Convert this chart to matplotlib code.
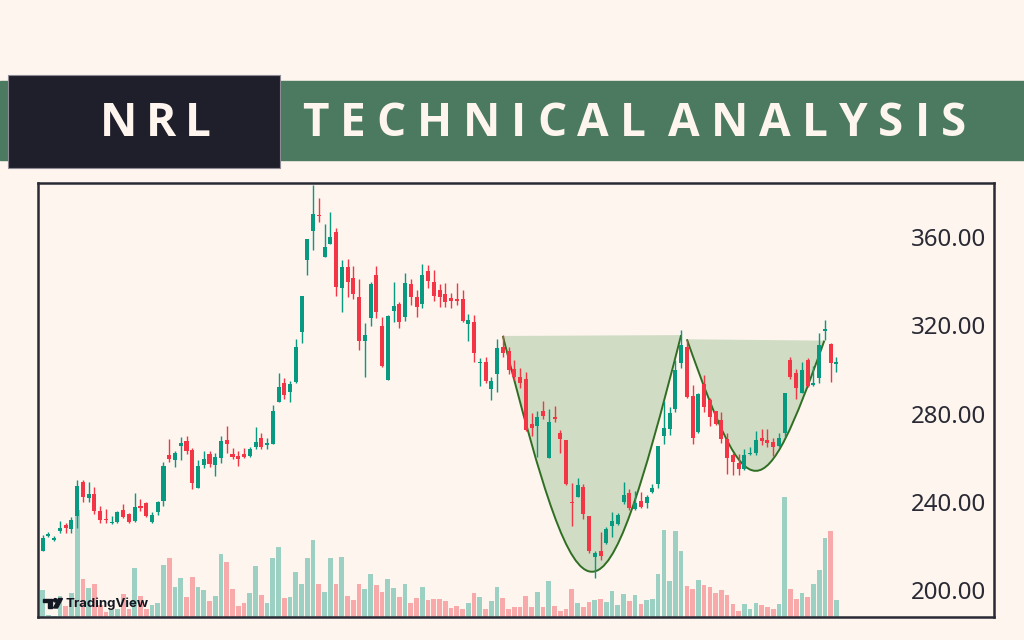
import matplotlib
matplotlib.use("Agg")
import matplotlib.pyplot as plt
from matplotlib.patches import Rectangle, Circle, Polygon, PathPatch
from matplotlib.path import Path
from matplotlib.transforms import Affine2D

# NRL daily candles, oldest first
opens = [217.8, 224.6, 222.8, 226.8, 229.5, 227.7, 233.6, 249.0, 241.8, 243.6,
         235.9, 232.3, 230.4, 230.9, 236.3, 234.5, 231.3, 238.1, 239.5, 230.9,
         235.4, 240.4, 261.2, 259.0, 265.3, 267.6, 263.5, 246.3, 256.7, 261.7,
         256.7, 259.9, 268.0, 261.7, 260.8, 261.7, 260.8, 264.9, 269.0, 265.8,
         266.2, 285.3, 293.9, 289.8, 294.3, 317.0, 349.6, 362.7, 369.9, 351.0,
         356.8, 362.3, 336.9, 346.4, 341.4, 332.8, 312.9, 323.3, 342.8, 319.7,
         295.2, 326.5, 329.6, 323.8, 338.7, 332.8, 329.6, 344.6, 339.6, 336.0,
         334.2, 332.4, 331.9, 331.9, 320.6, 321.5, 302.9, 303.4, 291.1, 297.9,
         310.2, 308.4, 300.2, 296.6, 295.7, 275.3, 274.4, 281.2, 259.9, 278.0,
         271.2, 268.0, 240.0, 242.2, 246.7, 233.6, 215.1, 217.8, 221.4, 229.1,
         230.0, 240.0, 244.0, 236.8, 240.4, 239.5, 244.5, 248.1, 269.9, 273.0,
         282.1, 302.9, 310.2, 288.0, 271.7, 293.4, 286.2, 281.2, 277.1, 268.5,
         261.3, 257.6, 254.9, 261.7, 262.2, 269.0, 268.0, 267.1, 265.3, 271.2,
         304.3, 298.4, 289.3, 304.3, 293.0, 296.1, 317.4, 311.5, 302.5]
highs = [225.0, 226.4, 224.5, 231.3, 230.4, 233.2, 249.9, 249.9, 249.0, 246.8,
         238.1, 236.8, 233.6, 235.9, 239.0, 235.0, 244.0, 241.2, 240.0, 235.4,
         240.4, 258.1, 268.5, 263.0, 269.4, 269.9, 264.4, 259.0, 263.0, 263.0,
         262.2, 269.9, 274.4, 264.4, 263.0, 264.4, 264.9, 273.9, 271.2, 269.0,
         283.9, 298.4, 296.1, 294.8, 313.8, 333.3, 359.1, 383.6, 377.7, 365.9,
         371.3, 364.1, 349.6, 350.0, 346.9, 341.0, 321.0, 339.6, 346.9, 323.8,
         324.7, 339.6, 330.6, 343.7, 341.0, 336.0, 347.8, 347.3, 345.1, 338.7,
         339.2, 334.6, 339.2, 336.0, 325.1, 324.7, 305.2, 305.6, 296.6, 313.8,
         315.6, 310.2, 304.3, 300.7, 298.8, 280.3, 281.2, 285.7, 282.1, 283.5,
         272.6, 268.3, 248.6, 250.8, 248.1, 233.6, 217.8, 226.4, 228.6, 235.4,
         235.0, 249.0, 245.8, 244.9, 244.5, 243.1, 248.1, 265.3, 285.7, 283.0,
         304.3, 317.9, 313.3, 293.0, 289.2, 297.5, 287.1, 281.2, 280.7, 271.2,
         262.2, 261.7, 264.0, 264.9, 272.1, 273.0, 273.0, 269.0, 271.2, 289.3,
         305.6, 300.2, 303.4, 305.2, 301.6, 316.5, 322.4, 312.0, 305.5]
lows = [217.8, 224.1, 222.3, 225.9, 225.9, 225.9, 228.2, 240.0, 240.0, 234.5,
        230.4, 230.4, 230.2, 230.4, 232.7, 230.4, 230.9, 235.9, 233.2, 230.4,
        234.2, 238.1, 258.1, 255.8, 259.0, 261.7, 245.8, 246.3, 255.4, 255.8,
        251.7, 257.6, 262.2, 259.4, 256.3, 259.9, 260.3, 264.0, 264.0, 264.0,
        266.2, 285.3, 286.6, 285.3, 293.9, 312.0, 342.8, 354.1, 366.8, 351.0,
        356.8, 333.3, 326.0, 332.8, 331.9, 308.8, 296.6, 319.7, 323.3, 301.1,
        295.2, 321.5, 318.8, 321.9, 329.2, 323.8, 327.8, 336.9, 331.0, 328.3,
        328.3, 327.8, 329.2, 321.5, 312.9, 303.4, 292.5, 293.9, 286.2, 289.8,
        305.6, 297.9, 295.2, 291.6, 272.2, 269.9, 260.3, 277.6, 259.9, 276.2,
        262.2, 247.8, 229.1, 242.2, 232.3, 216.9, 205.5, 213.7, 220.9, 224.1,
        229.5, 239.0, 236.3, 236.3, 237.2, 237.2, 244.0, 246.3, 266.2, 270.3,
        280.7, 300.6, 287.2, 266.2, 271.4, 280.7, 274.4, 274.8, 266.7, 252.6,
        252.2, 252.2, 254.4, 261.3, 261.3, 265.8, 264.9, 260.8, 264.9, 269.4,
        295.7, 286.6, 289.3, 292.0, 292.5, 293.9, 313.3, 294.3, 298.7]
closes = [223.7, 225.5, 223.2, 228.2, 228.2, 231.8, 247.2, 242.2, 243.6, 235.9,
          231.8, 231.8, 230.9, 235.4, 233.2, 230.9, 237.7, 237.2, 233.6, 234.1,
          239.8, 256.3, 259.4, 262.2, 266.7, 263.0, 248.6, 256.3, 259.4, 257.2,
          260.3, 267.6, 266.2, 260.3, 259.4, 260.3, 264.0, 267.1, 264.9, 266.2,
          281.2, 292.0, 288.4, 293.4, 310.2, 333.3, 359.1, 370.4, 369.5, 355.5,
          360.0, 337.4, 346.4, 339.6, 334.2, 312.9, 315.6, 338.7, 326.0, 301.6,
          324.2, 328.7, 321.5, 339.2, 332.8, 328.3, 342.8, 340.1, 333.3, 332.8,
          330.6, 331.0, 331.0, 321.9, 322.4, 307.5, 303.4, 294.8, 294.8, 309.7,
          307.5, 299.7, 296.6, 293.9, 272.6, 273.5, 278.5, 278.9, 276.2, 277.6,
          268.5, 248.1, 239.5, 247.7, 234.5, 217.8, 216.9, 215.5, 227.7, 231.3,
          234.1, 243.1, 237.2, 239.5, 237.7, 242.2, 246.3, 265.3, 273.5, 280.3,
          299.7, 311.1, 287.5, 268.9, 288.9, 283.0, 278.5, 275.3, 268.5, 259.9,
          258.1, 254.9, 261.3, 262.2, 268.0, 267.6, 266.7, 264.9, 269.0, 289.3,
          296.6, 291.6, 299.7, 292.5, 293.9, 311.1, 318.3, 302.9, 303.4]
# volume in lakh shares
volumes = [27.4, 2.4, 1.0, 20.7, 10.7, 23.7, 106.7, 37.7, 28.7, 32.7,
           11.7, 5.0, 6.7, 8.4, 22.7, 8.4, 48.7, 20.7, 7.7, 11.7,
           13.7, 51.7, 58.7, 29.7, 38.7, 19.7, 39.7, 29.7, 26.7, 15.7,
           20.7, 62.7, 54.7, 27.7, 10.7, 13.7, 23.7, 50.7, 21.7, 13.7,
           58.7, 69.7, 18.7, 19.7, 44.7, 32.7, 58.7, 76.7, 32.7, 24.7,
           58.7, 32.7, 59.7, 20.7, 16.7, 32.7, 27.7, 42.7, 31.7, 24.7,
           37.7, 28.7, 19.7, 32.7, 13.7, 18.7, 29.7, 16.7, 17.7, 17.7,
           15.7, 8.7, 10.7, 7.7, 13.7, 23.7, 19.7, 7.7, 15.7, 29.7,
           18.7, 7.7, 9.7, 9.7, 20.7, 9.7, 24.7, 9.7, 35.7, 10.7,
           5.7, 7.7, 27.7, 13.7, 9.7, 14.7, 16.7, 17.7, 14.7, 25.7,
           11.7, 22.7, 15.7, 21.7, 12.7, 16.7, 17.7, 42.7, 86.7, 35.7,
           85.7, 65.7, 30.7, 27.7, 36.7, 31.7, 29.7, 23.7, 26.7, 21.7,
           12.7, 5.7, 12.7, 7.7, 13.7, 11.7, 9.7, 7.7, 12.7, 119.7,
           27.7, 17.7, 23.7, 19.7, 32.7, 46.7, 78.7, 85.7, 16.7]

price_ticks = [200, 240, 280, 320, 360]

# cup and handle: start/end bar, rim prices, bottom price
cup_bars = [80.0, 111.0]
cup_rim = [315.2, 315.6]
cup_bottom = 208.4
handle_bars = [112.0, 135.9]
handle_rim = [313.7, 313.1]
handle_bottom = 254.1

BG = '#fdf5ee'
UP, DOWN = '#089981', '#f23645'
UP_VOL, DOWN_VOL = '#9bd0c2', '#f8a9a9'
INK = '#2a2a35'

W, H = 1024, 640
fig = plt.figure(figsize=(W / 100, H / 100), dpi=100, facecolor=BG)
# pixel coordinates, origin top-left
PX = Affine2D().scale(1, -1).translate(0, H).scale(1 / 100) + fig.dpi_scale_trans

# title banner
fig.patches.append(Rectangle((0, 81), W, 79, transform=PX, color='#4b7a61', zorder=0))
fig.patches.append(Rectangle((8, 75), 272, 93, transform=PX, facecolor='#1f1f2c',
                             edgecolor='#8e8a95', lw=0.8, zorder=1))


def tracked_text(s, x0, x1, y, **kw):
    r = fig.canvas.get_renderer()
    arts = [fig.text(0, y, c, transform=PX, ha='left', va='baseline', **kw)
            for c in s if c != ' ']
    widths = [a.get_window_extent(r).width for a in arts]
    gap = (x1 - x0 - sum(widths)) / (len(s) - 1)
    x, i = x0, 0
    for c in s:
        if c == ' ':
            x += gap
            continue
        arts[i].set_x(x)
        x += widths[i] + gap
        i += 1


title_kw = dict(fontsize=33, fontweight='bold', family='Open Sans', color=BG, zorder=2)
tracked_text('NRL', 100, 211, 136, **title_kw)
tracked_text('TECHNICAL ANALYSIS', 302, 966, 136.5, **title_kw)

# chart
ax = fig.add_axes([38 / W, 1 - 617 / H, (994 - 38) / W, (617 - 183) / H])
axv = ax.twinx()
ax.set_zorder(axv.get_zorder() + 1)
ax.patch.set_visible(False)
axv.patch.set_facecolor(BG)

idx = list(range(len(opens)))
up = [c >= o for o, c in zip(opens, closes)]
colors = [UP if u else DOWN for u in up]

axv.bar(idx, volumes, width=0.82, color=[UP_VOL if u else DOWN_VOL for u in up])
axv.set_ylim(0, 434)
axv.set_yticks([])
for s in axv.spines.values():
    s.set_visible(False)

ax.vlines(idx, lows, highs, colors=colors, lw=1.0, zorder=3)
bottoms = [min(o, c) for o, c in zip(opens, closes)]
heights = [max(abs(c - o), 0.7) for o, c in zip(opens, closes)]
ax.bar(idx, heights, bottom=bottoms, width=0.7, color=colors, zorder=4)


def cup(bars, rim, low):
    x0, x3 = bars
    y0, y3 = rim
    k = 0.45 * (x3 - x0)
    yc = (8 * low - y0 - y3) / 6
    verts = [(x0, y0), (x0 + k, yc), (x3 - k, yc), (x3, y3)]
    fill = Path(verts + [(x0, y0)], [Path.MOVETO] + [Path.CURVE4] * 3 + [Path.CLOSEPOLY])
    ax.add_patch(PathPatch(fill, facecolor='#d0dcc4', edgecolor='none', zorder=1))
    curve = Path(verts, [Path.MOVETO] + [Path.CURVE4] * 3)
    ax.add_patch(PathPatch(curve, facecolor='none', edgecolor='#2f6e23', lw=1.4, zorder=2))


cup(cup_bars, cup_rim, cup_bottom)
cup(handle_bars, handle_rim, handle_bottom)

ax.set_xlim(-0.82, 165.4)
ax.set_ylim(187.9, 384.5)
ax.set_xticks([])
ax.yaxis.tick_right()
ax.set_yticks(price_ticks, labels=[f'{v:.2f}' for v in price_ticks], ha='right')
ax.tick_params(axis='y', length=0, pad=-6, labelsize=17.3, labelcolor=INK)
for lbl in ax.get_yticklabels():
    lbl.set_family('Noto Sans')
for s in ax.spines.values():
    s.set_color(INK)
    s.set_linewidth(1.8)

# TradingView mark
fig.patches.append(Polygon([(42.5, 598.5), (52, 598.5), (52, 608), (47.5, 608),
                            (47.5, 601.8), (42.5, 601.8)], closed=True,
                           transform=PX, color='#131722', zorder=5))
fig.patches.append(Circle((55.3, 600.3), 1.7, transform=PX, color='#131722', zorder=5))
fig.patches.append(Polygon([(53.5, 608), (57.5, 608), (62.5, 598.5), (58.5, 598.5)],
                           closed=True, transform=PX, color='#131722', zorder=5))
fig.text(65.5, 607.5, 'TradingView', transform=PX, fontsize=9.5, fontweight='bold',
         family='Inter', color='#131722', va='baseline', zorder=5)

fig.savefig('out.png', dpi=100, facecolor=BG)
